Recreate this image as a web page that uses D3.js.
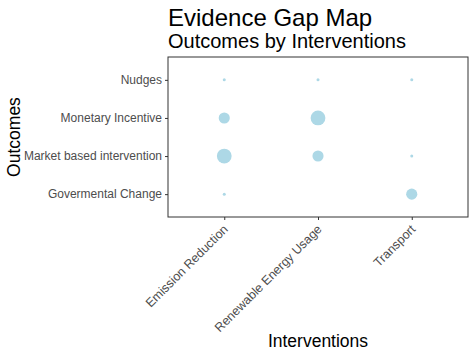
<!DOCTYPE html>
<html><head><meta charset="utf-8">
<script src="https://cdn.jsdelivr.net/npm/d3@7"></script>
<style>body{margin:0;background:#fff}text{font-family:"Liberation Sans",Arial,sans-serif}</style>
</head><body><svg id="c" width="474" height="356"></svg>
<script>
const interventions = ["Emission Reduction","Renewable Energy Usage","Transport"];
const outcomes = ["Nudges","Monetary Incentive","Market based intervention","Govermental Change"];
// counts per intervention, in the order of outcomes (null = no study)
const emissionCounts  = [1, 4, 6, 1];
const renewableCounts = [1, 6, 4, null];
const transportCounts = [1, null, 1, 4];
const countsByIntervention = [emissionCounts, renewableCounts, transportCounts];

const svg = d3.select("#c");
const L = 168, R = 468, T = 57, B = 217;

const x = d3.scalePoint().domain(interventions).range([L, R]).padding(0.6);
const y = d3.scalePoint().domain(outcomes).range([T, B]).padding(0.6);
const r = d3.scalePow().exponent(0.5).domain([1, 6]).range([1.5, 7.4]);

const pts = [];
interventions.forEach((iv, i) => outcomes.forEach((oc, j) => {
  const v = countsByIntervention[i][j];
  if (v != null) pts.push({iv, oc, v});
}));

svg.append("g").selectAll("circle").data(pts).join("circle")
  .attr("cx", d => x(d.iv)).attr("cy", d => y(d.oc)).attr("r", d => r(d.v))
  .attr("fill", "#ADD8E6");

svg.append("rect").attr("x", L).attr("y", T).attr("width", R - L).attr("height", B - T)
  .attr("fill", "none").attr("stroke", "#333333").attr("stroke-width", 1);

const xa = svg.append("g").attr("transform", `translate(0,${B})`)
  .call(d3.axisBottom(x).tickSize(3).tickPadding(2));
xa.select(".domain").remove();
xa.selectAll(".tick line").attr("stroke", "#333333");
xa.selectAll(".tick text").attr("fill", "#4D4D4D").style("font-size", "12.5px")
  .attr("text-anchor", "end").attr("dy", null).attr("y", 0)
  .attr("transform", "translate(4,13) rotate(-45)");

const ya = svg.append("g").attr("transform", `translate(${L},0)`)
  .call(d3.axisLeft(y).tickSize(3).tickPadding(3));
ya.select(".domain").remove();
ya.selectAll(".tick line").attr("stroke", "#333333");
ya.selectAll(".tick text").attr("fill", "#4D4D4D").style("font-size", "12px");

svg.append("text").attr("x", L).attr("y", 26).style("font-size", "24px").attr("fill", "#000").text("Evidence Gap Map");
svg.append("text").attr("x", L).attr("y", 48).style("font-size", "20px").attr("fill", "#000").text("Outcomes by Interventions");
svg.append("text").attr("x", (L + R) / 2).attr("y", 347).attr("text-anchor", "middle").style("font-size", "17.5px").text("Interventions");
svg.append("text").attr("transform", `translate(20,${(T + B) / 2}) rotate(-90)`).attr("text-anchor", "middle").style("font-size", "17.5px").text("Outcomes");
</script></body></html>
